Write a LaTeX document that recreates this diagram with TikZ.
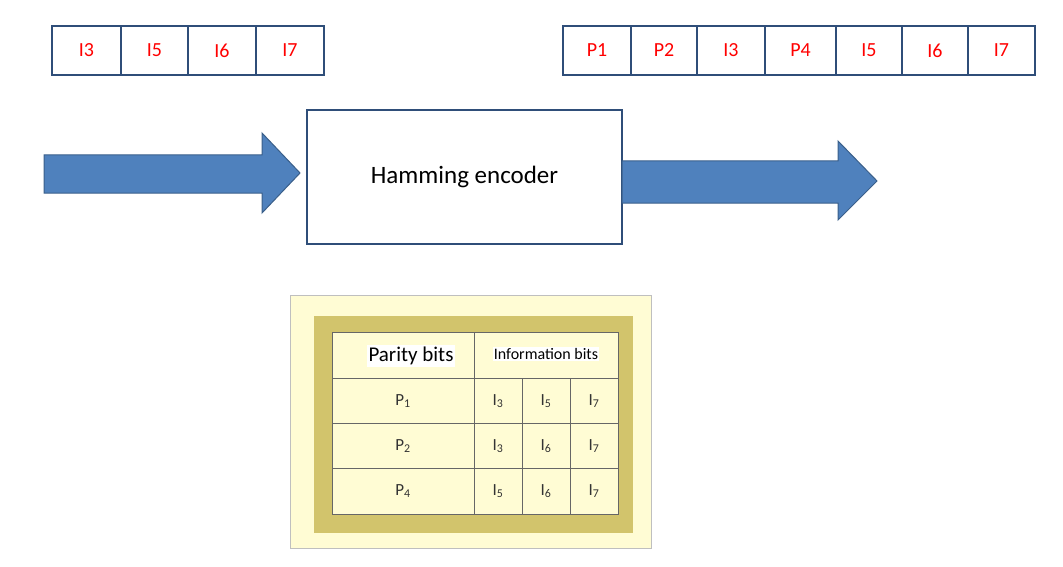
\documentclass[tikz,border=0pt]{standalone}
\usepackage{fontspec}
\setmainfont{Carlito}
\definecolor{arrowblue}{HTML}{4F81BD}
\definecolor{arrowedge}{HTML}{3A5F8A}
\definecolor{boxedge}{HTML}{2F4E79}
\definecolor{paleyellow}{HTML}{FFFCD4}
\definecolor{olive}{HTML}{D2C46C}
\begin{document}
\begin{tikzpicture}[x=1pt,y=-1pt,
    bit/.style={draw=boxedge, line width=1.2pt, minimum height=49pt, inner sep=0pt, text=red, font=\fontsize{20}{22}\selectfont},
    bigarrow/.style={fill=arrowblue, draw=arrowedge, line width=1pt},
    cell/.style={font=\fontsize{17}{19}\selectfont, text=black!80}]
\useasboundingbox (0,0) rectangle (1063,567);
% input word
\foreach \a/\b/\t [count=\i] in {52/121/I3,121/188/I5,188/256/I6,256/324/I7}
  \node[bit, minimum width={\b-\a}] (in\i) at ({(\a+\b)/2},50.5) {\t};
% output word
\foreach \a/\b/\t [count=\i] in {563/631/P1,631/697/P2,697/765/I3,765/836/P4,836/902/I5,902/968/I6,968/1035/I7}
  \node[bit, minimum width={\b-\a}] (out\i) at ({(\a+\b)/2},50.5) {\t};
% encoder
\node[draw=boxedge, line width=1.5pt, minimum width=315pt, minimum height=134pt,
      font=\fontsize{25}{28}\selectfont] (enc) at (464.5,177) {Hamming encoder};
% arrows
\draw[bigarrow] (44,155) -- (262,155) -- (262,133) -- (300,173) -- (262,213) -- (262,193) -- (44,193) -- cycle;
\draw[bigarrow] (622,161) -- (838,161) -- (838,141) -- (877,181) -- (838,220) -- (838,203) -- (622,203) -- cycle;
% table
\fill[paleyellow, draw=black!25] (290,295) rectangle (651,548);
\fill[olive] (314,316) rectangle (633,533);
\fill[paleyellow] (332,332) rectangle (618,514);
\draw[black!60, line width=0.7pt] (332,332) rectangle (618,514)
  (474,332) -- (474,514) (522,378) -- (522,514) (570,378) -- (570,514)
  (332,378) -- (618,378) (332,423) -- (618,423) (332,468) -- (618,468);
\node[fill=white, inner sep=2pt, font=\fontsize{21}{23}\selectfont] (pb) at (411,356) {Parity bits};
\node[fill=white, inner sep=1pt, font=\fontsize{16}{18}\selectfont] (ib) at (546,354) {Information bits};
\foreach \y/\p/\a/\b/\c in {401/1/3/5/7,446/2/3/6/7,491/4/5/6/7}{
  \node[cell] at (403,\y) {P\textsubscript{\p}};
  \node[cell] at (498,\y) {I\textsubscript{\a}};
  \node[cell] at (546,\y) {I\textsubscript{\b}};
  \node[cell] at (594,\y) {I\textsubscript{\c}};
}
\end{tikzpicture}
\end{document}
